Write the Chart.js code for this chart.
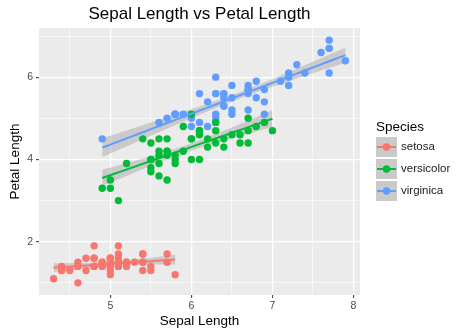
<!DOCTYPE html>
<html>
<head>
<meta charset="utf-8">
<script src="https://cdn.jsdelivr.net/npm/chart.js@4"></script>
<style>
  body { margin: 0; background: #fff; }
</style>
</head>
<body>
<canvas id="chart" width="474" height="335"></canvas>
<script>
// iris data: sepal length (x) vs petal length (y)
const species = ["setosa", "versicolor", "virginica"];
const speciesColors = ["#F8766D", "#00BA38", "#619CFF"];

const setosaSepal = [5.1,4.9,4.7,4.6,5.0,5.4,4.6,5.0,4.4,4.9,5.4,4.8,4.8,4.3,5.8,5.7,5.4,5.1,5.7,5.1,5.4,5.1,4.6,5.1,4.8,5.0,5.0,5.2,5.2,4.7,4.8,5.4,5.2,5.5,4.9,5.0,5.5,4.9,4.4,5.1,5.0,4.5,4.4,5.0,5.1,4.8,5.1,4.6,5.3,5.0];
const setosaPetal = [1.4,1.4,1.3,1.5,1.4,1.7,1.4,1.5,1.4,1.5,1.5,1.6,1.4,1.1,1.2,1.5,1.3,1.4,1.7,1.5,1.7,1.5,1.0,1.7,1.9,1.6,1.6,1.5,1.4,1.6,1.6,1.5,1.5,1.4,1.5,1.2,1.3,1.4,1.3,1.5,1.3,1.3,1.3,1.6,1.9,1.4,1.6,1.4,1.5,1.4];

const versicolorSepal = [7.0,6.4,6.9,5.5,6.5,5.7,6.3,4.9,6.6,5.2,5.0,5.9,6.0,6.1,5.6,6.7,5.6,5.8,6.2,5.6,5.9,6.1,6.3,6.1,6.4,6.6,6.8,6.7,6.0,5.7,5.5,5.5,5.8,6.0,5.4,6.0,6.7,6.3,5.6,5.5,5.5,6.1,5.8,5.0,5.6,5.7,5.7,6.2,5.1,5.7];
const versicolorPetal = [4.7,4.5,4.9,4.0,4.6,4.5,4.7,3.3,4.6,3.9,3.5,4.2,4.0,4.7,3.6,4.4,4.5,4.1,4.5,3.9,4.8,4.0,4.9,4.7,4.3,4.4,4.8,5.0,4.5,3.5,3.8,3.7,3.9,5.1,4.5,4.5,4.7,4.4,4.1,4.0,4.4,4.6,4.0,3.3,4.2,4.2,4.2,4.3,3.0,4.1];

const virginicaSepal = [6.3,5.8,7.1,6.3,6.5,7.6,4.9,7.3,6.7,7.2,6.5,6.4,6.8,5.7,5.8,6.4,6.5,7.7,7.7,6.0,6.9,5.6,7.7,6.3,6.7,7.2,6.2,6.1,6.4,7.2,7.4,7.9,6.4,6.3,6.1,7.7,6.3,6.4,6.0,6.9,6.7,6.9,5.8,6.8,6.7,6.7,6.3,6.5,6.2,5.9];
const virginicaPetal = [6.0,5.1,5.9,5.6,5.8,6.6,4.5,6.3,5.8,6.1,5.1,5.3,5.5,5.0,5.1,5.3,5.5,6.7,6.9,5.0,5.7,4.9,6.7,4.9,5.7,6.0,4.8,4.9,5.6,5.8,6.1,6.4,5.6,5.1,5.6,6.1,5.6,5.5,4.8,5.4,5.6,5.1,5.1,5.9,5.7,5.2,5.0,5.2,5.4,5.1];

const xTicks = [5, 6, 7, 8];
const xMinor = [4.5, 5.5, 6.5, 7.5];
const yTicks = [2, 4, 6];
const yMinor = [1, 3, 5, 7];

const sepalData = [setosaSepal, versicolorSepal, virginicaSepal];
const petalData = [setosaPetal, versicolorPetal, virginicaPetal];

// linear model with 95% confidence band, like geom_smooth(method = "lm")
function fitLine(xs, ys) {
    const n = xs.length;
    const mx = xs.reduce((a, b) => a + b, 0) / n;
    const my = ys.reduce((a, b) => a + b, 0) / n;
    let sxx = 0, sxy = 0;
    for (let i = 0; i < n; i++) {
        sxx += (xs[i] - mx) * (xs[i] - mx);
        sxy += (xs[i] - mx) * (ys[i] - my);
    }
    const b = sxy / sxx;
    const a = my - b * mx;
    let sse = 0;
    for (let i = 0; i < n; i++) {
        const r = ys[i] - (a + b * xs[i]);
        sse += r * r;
    }
    const s = Math.sqrt(sse / (n - 2));
    const t = 2.0106; // t quantile, df = 48
    const lo = Math.min(...xs), hi = Math.max(...xs);
    const fit = [], upper = [], lower = [];
    const steps = 40;
    for (let k = 0; k <= steps; k++) {
        const x = lo + (hi - lo) * k / steps;
        const yhat = a + b * x;
        const se = s * Math.sqrt(1 / n + (x - mx) * (x - mx) / sxx);
        fit.push({ x: x, y: yhat });
        upper.push({ x: x, y: yhat + t * se });
        lower.push({ x: x, y: yhat - t * se });
    }
    return { fit, upper, lower };
}

const bandColor = "rgba(153,153,153,0.4)";
const datasets = [];
species.forEach((name, i) => {
    const m = fitLine(sepalData[i], petalData[i]);
    datasets.push({
        type: "line", data: m.upper, fill: "+1", backgroundColor: bandColor,
        borderWidth: 0, pointRadius: 0, order: 3
    });
    datasets.push({
        type: "line", data: m.lower, fill: false,
        borderWidth: 0, pointRadius: 0, order: 3
    });
    datasets.push({
        type: "scatter", label: name,
        data: sepalData[i].map((x, j) => ({ x: x, y: petalData[i][j] })),
        backgroundColor: speciesColors[i], pointRadius: 3.7, borderWidth: 0, order: 2
    });
    datasets.push({
        type: "line", data: m.fit, borderColor: speciesColors[i], borderWidth: 2,
        pointRadius: 0, fill: false, order: 1
    });
});

const fontFamily = "'Liberation Sans', Arial, sans-serif";

const panelPlugin = {
    id: "panel",
    beforeDraw(chart) {
        const { ctx, chartArea } = chart;
        ctx.save();
        ctx.fillStyle = "#EBEBEB";
        ctx.fillRect(chartArea.left, chartArea.top, chartArea.right - chartArea.left, chartArea.bottom - chartArea.top);
        ctx.restore();
    },
    afterDraw(chart) {
        const { ctx, chartArea } = chart;
        const cx = (chartArea.left + chartArea.right) / 2;
        ctx.save();
        ctx.fillStyle = "#000";
        ctx.textAlign = "center";
        ctx.textBaseline = "middle";
        ctx.font = "17px " + fontFamily;
        ctx.fillText("Sepal Length vs Petal Length", cx, 14);
        ctx.font = "13.5px " + fontFamily;
        ctx.fillText("Sepal Length", cx, 321);
        ctx.save();
        ctx.translate(15, (chartArea.top + chartArea.bottom) / 2);
        ctx.rotate(-Math.PI / 2);
        ctx.fillText("Petal Length", 0, 0);
        ctx.restore();

        // legend
        ctx.textAlign = "left";
        ctx.font = "13.5px " + fontFamily;
        ctx.fillText("Species", 376, 127);
        species.forEach((name, i) => {
            const y0 = 137 + i * 22;
            const yc = y0 + 10;
            ctx.fillStyle = "#CACACA";
            ctx.fillRect(376, y0, 21, 20);
            ctx.strokeStyle = speciesColors[i];
            ctx.lineWidth = 2;
            ctx.beginPath();
            ctx.moveTo(377, yc);
            ctx.lineTo(396, yc);
            ctx.stroke();
            ctx.fillStyle = speciesColors[i];
            ctx.beginPath();
            ctx.arc(386.5, yc, 3.7, 0, Math.PI * 2);
            ctx.fill();
            ctx.fillStyle = "#1A1A1A";
            ctx.font = "11.5px " + fontFamily;
            ctx.fillText(name, 401, yc);
        });
        ctx.restore();
    }
};

function gridWidth(majors) {
    return c => (c.tick && majors.includes(c.tick.value)) ? 1.3 : 0.6;
}
function tickColor(majors) {
    return c => (c.tick && majors.includes(c.tick.value)) ? "#333333" : "rgba(0,0,0,0)";
}

new Chart(document.getElementById("chart"), {
    type: "scatter",
    data: { datasets: datasets },
    options: {
        responsive: false,
        animation: false,
        layout: { padding: { top: 28, right: 114, left: 0, bottom: 0 } },
        plugins: { legend: { display: false }, tooltip: { enabled: false }, title: { display: false } },
        scales: {
            x: {
                type: "linear", min: 4.12, max: 8.08,
                afterBuildTicks: s => { s.ticks = xMinor.concat(xTicks).sort((a, b) => a - b).map(v => ({ value: v })); },
                afterFit: s => { s.height = 40; },
                border: { display: false },
                grid: { color: "#FFFFFF", lineWidth: gridWidth(xTicks), tickColor: tickColor(xTicks), tickLength: 3, tickWidth: 1 },
                ticks: {
                    callback: v => xTicks.includes(v) ? String(v) : "",
                    color: "#4D4D4D", font: { size: 10.5, family: fontFamily }, padding: 2, maxRotation: 0, autoSkip: false
                }
            },
            y: {
                type: "linear", min: 0.705, max: 7.195,
                afterBuildTicks: s => { s.ticks = yMinor.concat(yTicks).sort((a, b) => a - b).map(v => ({ value: v })); },
                afterFit: s => { s.width = 39; },
                border: { display: false },
                grid: { color: "#FFFFFF", lineWidth: gridWidth(yTicks), tickColor: tickColor(yTicks), tickLength: 3, tickWidth: 1 },
                ticks: {
                    callback: v => yTicks.includes(v) ? String(v) : "",
                    color: "#4D4D4D", font: { size: 10.5, family: fontFamily }, padding: 3, autoSkip: false
                }
            }
        }
    },
    plugins: [panelPlugin]
});
</script>
</body>
</html>
